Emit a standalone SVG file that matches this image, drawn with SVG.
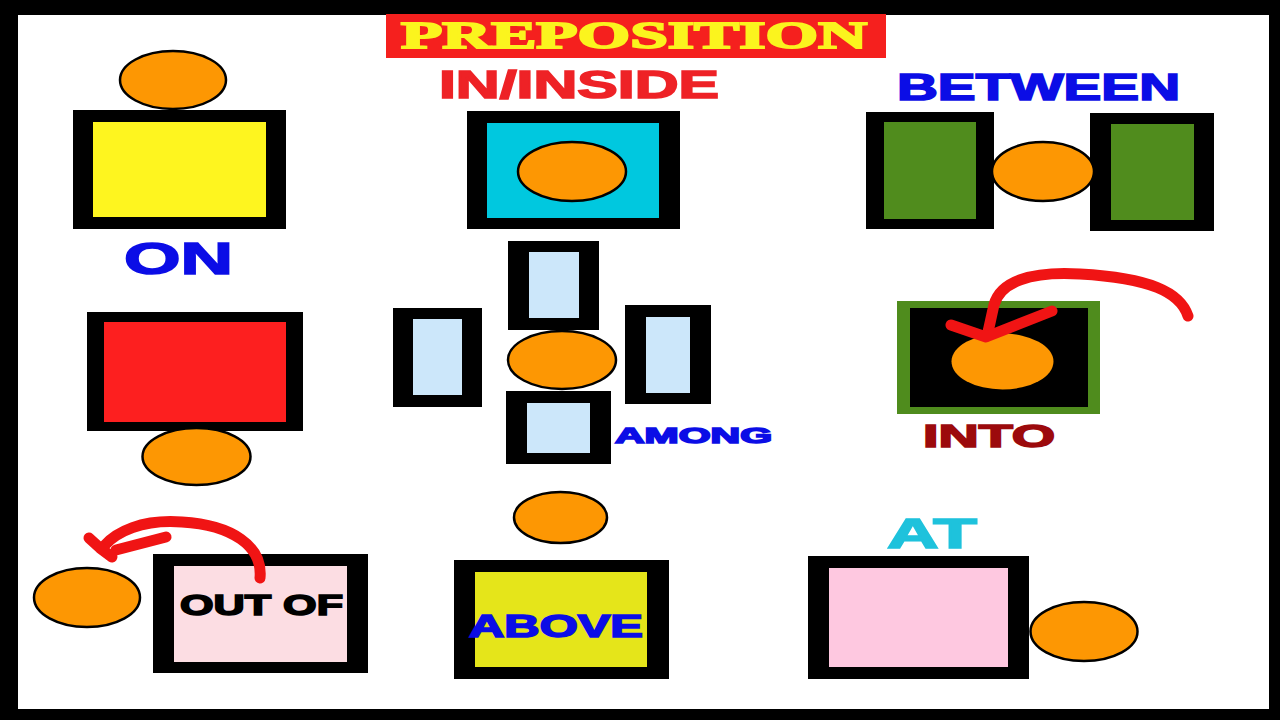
<svg xmlns="http://www.w3.org/2000/svg" width="1280" height="720" viewBox="0 0 1280 720">
<style>
.frame{fill:#000}
.ball{fill:#fd9703;stroke:#000;stroke-width:2.5}
.lbl{font-family:"Liberation Sans",Arial,sans-serif;font-weight:bold;stroke-width:1.6}
.blue{fill:#0b0de6;stroke:#0b0de6}
.arrow{fill:none;stroke:#f01414;stroke-width:11;stroke-linecap:round;stroke-linejoin:round}
</style>
<rect x="0" y="0" width="1280" height="720" fill="#000"/>
<rect x="18" y="15" width="1251" height="694" fill="#fff"/>

<g id="title">
<rect x="386" y="14" width="500" height="44" fill="#f5201e"/>
<text x="401" y="48" font-family="'Liberation Serif','DejaVu Serif',serif" font-weight="bold" font-size="37" fill="#fbf41e" stroke="#fbf41e" stroke-width="1.8" textLength="466" lengthAdjust="spacingAndGlyphs">PREPOSITION</text>
</g>

<g id="on">
<rect class="frame" x="73" y="110" width="213" height="119"/>
<rect x="93" y="122" width="173" height="95" fill="#fef51f"/>
<ellipse class="ball" cx="173" cy="80" rx="53" ry="29"/>
<text class="lbl blue" x="124" y="274" font-size="45" textLength="109" lengthAdjust="spacingAndGlyphs">ON</text>
</g>

<g id="in-inside">
<text class="lbl" x="439" y="98" font-size="39" fill="#ee2226" stroke="#ee2226" textLength="280" lengthAdjust="spacingAndGlyphs">IN/INSIDE</text>
<rect class="frame" x="467" y="111" width="213" height="118"/>
<rect x="487" y="123" width="172" height="95" fill="#00c8df"/>
<ellipse class="ball" cx="572" cy="171.5" rx="54" ry="29.5"/>
</g>

<g id="between">
<text class="lbl blue" x="897" y="100" font-size="36" textLength="283" lengthAdjust="spacingAndGlyphs">BETWEEN</text>
<rect class="frame" x="866" y="112" width="128" height="117"/>
<rect x="884" y="122" width="92" height="97" fill="#508c1d"/>
<rect class="frame" x="1090" y="113" width="124" height="118"/>
<rect x="1111" y="124" width="83" height="96" fill="#508c1d"/>
<ellipse class="ball" cx="1043" cy="171.5" rx="51" ry="29.5"/>
</g>

<g id="under">
<rect class="frame" x="87" y="312" width="216" height="119"/>
<rect x="104" y="322" width="182" height="100" fill="#fd1f1f"/>
<ellipse class="ball" cx="196.5" cy="456.5" rx="54" ry="28.5"/>
</g>

<g id="among">
<rect class="frame" x="508" y="241" width="91" height="89"/>
<rect x="529" y="252" width="50" height="66" fill="#cce7fa"/>
<rect class="frame" x="393" y="308" width="89" height="99"/>
<rect x="413" y="319" width="49" height="76" fill="#cce7fa"/>
<rect class="frame" x="625" y="305" width="86" height="99"/>
<rect x="646" y="317" width="44" height="76" fill="#cce7fa"/>
<rect class="frame" x="506" y="391" width="105" height="73"/>
<rect x="527" y="403" width="63" height="50" fill="#cce7fa"/>
<ellipse class="ball" cx="562" cy="360" rx="54" ry="29"/>
<text class="lbl blue" x="615" y="443" font-size="22" stroke-width="1" textLength="157" lengthAdjust="spacingAndGlyphs">AMONG</text>
</g>

<g id="into">
<rect x="897" y="301" width="203" height="113" fill="#4f8c1d"/>
<rect x="910" y="308" width="178" height="99" fill="#000"/>
<ellipse cx="1002.5" cy="361.5" rx="51" ry="28" fill="#fd9703"/>
<text class="lbl" x="923" y="447" font-size="32" fill="#9c0a0c" stroke="#9c0a0c" textLength="132" lengthAdjust="spacingAndGlyphs">INTO</text>
</g>

<g id="out-of">
<ellipse class="ball" cx="87" cy="597.5" rx="53" ry="29.5"/>
<rect class="frame" x="153" y="554" width="215" height="119"/>
<rect x="174" y="566" width="173" height="96" fill="#fcdde3"/>
<text class="lbl" x="180" y="615" font-size="29" fill="#000" stroke="#000" textLength="163" lengthAdjust="spacingAndGlyphs">OUT OF</text>
</g>

<g id="above">
<ellipse class="ball" cx="560.5" cy="517.5" rx="46.5" ry="25.5"/>
<rect class="frame" x="454" y="560" width="215" height="119"/>
<rect x="475" y="572" width="172" height="95" fill="#e5e51a"/>
<text class="lbl blue" x="469" y="637" font-size="31" textLength="174" lengthAdjust="spacingAndGlyphs">ABOVE</text>
</g>

<g id="at">
<text class="lbl" x="887" y="548" font-size="42" fill="#1ec2dc" stroke="#1ec2dc" textLength="90" lengthAdjust="spacingAndGlyphs">AT</text>
<rect class="frame" x="808" y="556" width="221" height="123"/>
<rect x="829" y="568" width="179" height="99" fill="#fec8e0"/>
<ellipse class="ball" cx="1084" cy="631.5" rx="53.5" ry="29.5"/>
</g>

<g id="connectors">
<path class="arrow" d="M1188,316 C1180,292 1150,278 1080,274 C1030,271 1000,282 994,305 C991,318 989,328 987,336"/>
<path class="arrow" d="M951,325 L986,337 L1052,311"/>
<path class="arrow" d="M260,578 C263,546 232,525 182,522 C142,519 116,532 104,546"/>
<path class="arrow" d="M166,537 L116,550"/>
<path class="arrow" d="M89,538 L100,548 L112,557"/>
</g>
</svg>
